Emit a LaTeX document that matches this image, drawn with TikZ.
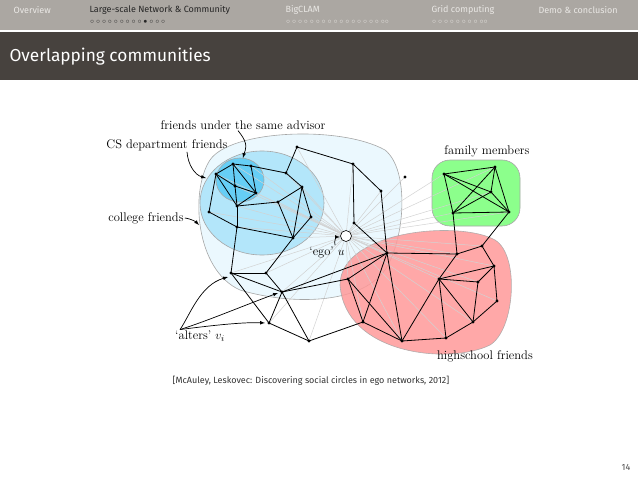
\documentclass[tikz,border=0pt]{standalone}
\usepackage{fontspec}
\newfontfamily\fira{Fira Sans}
\definecolor{topbar}{HTML}{ABA7A2}
\definecolor{darkbar}{HTML}{47423E}
\definecolor{navtxt}{HTML}{EAE8E5}
\begin{document}
\begin{tikzpicture}[x=1pt,y=-1pt,
  v/.style={circle,fill=black,inner sep=0pt,minimum size=3.4pt},
  e/.style={line width=0.8pt},
  sp/.style={gray!35,line width=0.5pt},
  lab/.style={font=\fontsize{12.5}{14}\selectfont,inner sep=1pt},
  ar/.style={-latex,line width=0.7pt},
  nav/.style={font=\fira\small,text=navtxt,anchor=west}]
\useasboundingbox (0,0) rectangle (638,479);
\fill[topbar] (0,0) rectangle (638,30);
\fill[darkbar] (0,32) rectangle (638,80);
\node[nav] (n1) at (10,10) {Overview};
\node[nav,text=black!85] (n2) at (86,10) {Large-scale Network \& Community};
\node[nav] (n3) at (282,10) {BigCLAM};
\node[nav] (n4) at (428,10) {Grid computing};
\node[nav] (n5) at (535,10) {Demo \& conclusion};
\node[font=\fira\scriptsize,anchor=west,text=black!85,inner sep=0pt] (d2) at (90,22) {$\circ\circ\circ\circ\circ\circ\circ\circ\circ\bullet\circ\circ\circ$};
\node[font=\fira\scriptsize,anchor=west,text=navtxt,inner sep=0pt] (d3) at (286,22) {$\circ\circ\circ\circ\circ\circ\circ\circ\circ\circ\circ\circ\circ\circ\circ\circ\circ\circ$};
\node[font=\fira\scriptsize,anchor=west,text=navtxt,inner sep=0pt] (d4) at (432,22) {$\circ\circ\circ\circ\circ\circ\circ\circ\circ\circ$};
\node[font=\fira\LARGE,text=white,anchor=west] (title) at (6,57) {Overlapping communities};
% blobs
\fill[cyan!8,draw=gray!70,line width=0.6pt] (210,160) .. controls (230,130) and (340,125) .. (385,150) .. controls (410,170) and (405,240) .. (385,270) .. controls (360,305) and (290,305) .. (240,290) .. controls (195,270) and (190,190) .. (210,160) -- cycle;
\fill[cyan!30,draw=gray!70,line width=0.6pt] (262,203) ellipse (62 and 52);
\fill[cyan!60,draw=gray!70,line width=0.6pt] (240,180) ellipse (24 and 22);
\fill[green!45,draw=gray!70,line width=0.6pt,rounded corners=18pt] (432,160) rectangle (520,226);
\fill[red!40,opacity=0.85,draw=gray!70,line width=0.6pt] (340,285) .. controls (340,230) and (460,220) .. (495,240) .. controls (520,255) and (515,330) .. (490,345) .. controls (450,365) and (345,355) .. (340,285) -- cycle;
% nodes
\foreach \n/\x/\y in {A/233/164,B/251/166,C/216/174,D/235/186,E/256/193,F/237/206,G/209/212,H/237/227,I/231/273,J/266/273,K/282/292,L/269/323,M/309/341,N/278/202,O/286/173,P/297/147,Q/302/187,R/311/217,S/293/238,T/353/164,U/381/191,V/354/223,W/405/177,X/387/253,Y/348/279,Z/363/322,F1/444/174,F2/495/167,F3/491/192,F4/453/213,F5/509/212,H1/482/246,H2/457/254,H3/494/266,H4/439/279,H5/478/282,H6/497/301,H7/473/322,H8/402/341,H9/446/338}
  \coordinate (\n) at (\x,\y);
\coordinate (ego) at (346,236);
\foreach \n in {A,B,C,D,E,F,G,H,I,J,K,L,M,N,O,P,Q,R,S,T,U,V,W,X,Y,Z,F1,F2,F3,F4,F5,H1,H2,H3,H4,H5,H6,H7,H8,H9}
  \draw[sp] (ego) -- (\n);
\foreach \a/\b in {A/B,A/C,A/D,A/E,B/E,C/D,C/F,D/F,D/E,E/F,C/G,B/O,G/H,F/H,F/N,N/Q,O/P,O/Q,P/T,Q/R,Q/S,N/S,H/S,H/I,I/J,I/K,J/K,K/L,I/L,L/M,K/M,T/U,T/V,U/X,V/X,X/Y,Y/K,Y/Z,M/Z,F1/F2,F1/F3,F1/F4,F1/F5,F2/F3,F2/F4,F2/F5,F3/F4,F3/F5,F4/F5,F4/H2,F5/H1,X/H2,H2/H1,H1/H3,H3/H6,H3/H5,H5/H7,H4/H2,H4/H5,H4/H8,H4/H9,H4/H7,H9/H7,H8/H9,H7/H6,X/H8,X/Z,Y/H8,Z/H8,H4/H3,J/S,R/S,K/X}
  \draw[e] (\a) -- (\b);
\foreach \n in {A,B,C,D,E,F,G,H,I,J,K,L,M,N,O,P,Q,R,S,T,U,V,W,X,Y,Z,F1,F2,F3,F4,F5,H1,H2,H3,H4,H5,H6,H7,H8,H9}
  \node[v] at (\n) {};
\draw[fill=white,line width=0.6pt] (ego) circle (5.5);
% labels
\node[lab] (l1) at (243,125) {friends under the same advisor};
\node[lab] (l2) at (167,145) {CS department friends};
\node[lab] (l3) at (487,151) {family members};
\node[lab] (l4) at (146,218) {college friends};
\node[lab] (l5) at (327,252) {`ego' $u$};
\node[lab] (l6) at (200,336) {`alters' $v_i$};
\node[lab] (l7) at (485,356) {highschool friends};
\draw[ar] (l1.south) ++(-5,0) .. controls (250,145) and (245,150) .. (243,158);
\draw[ar] (l2.south) ++(20,0) .. controls (188,165) and (195,175) .. (206,178);
\draw[ar] (l4.east) .. controls (192,219) and (196,222) .. (199,225);
\draw[ar] (l5.north) ++(8,0) .. controls (334,238) and (337,237) .. (340,237);
\draw[ar] (l6.north west) ++(6,0) .. controls (190,315) and (200,285) .. (228,277);
\draw[ar] (l6.north west) ++(6,0) .. controls (210,320) and (245,305) .. (278,293);
\draw[ar] (l6.north west) ++(6,0) .. controls (215,325) and (245,322) .. (265,323);
\node[font=\fira\small,text=black!80] (cite) at (311,381) {[McAuley, Leskovec: Discovering social circles in ego networks, 2012]};
\node[font=\fira\small,text=black!70] (pg) at (626,467) {14};
\end{tikzpicture}
\end{document}
